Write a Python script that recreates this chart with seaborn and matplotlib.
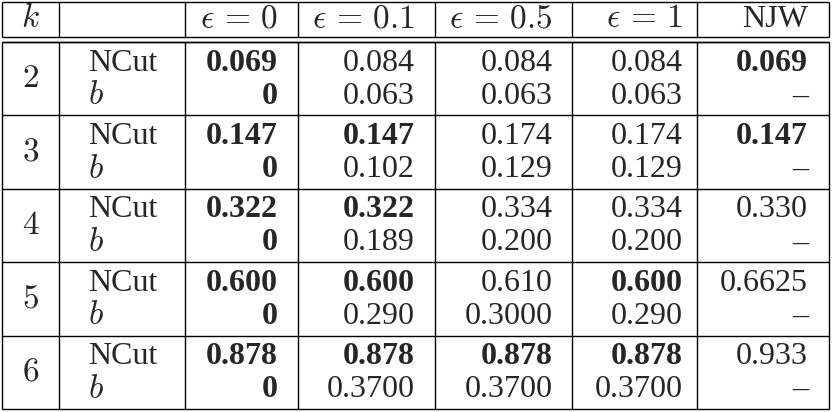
import matplotlib
matplotlib.use("Agg")
import matplotlib.pyplot as plt
import seaborn as sns

# ---- data ----
ks = [2, 3, 4, 5, 6]
headers = [r"$k$", "", r"$\epsilon\,=\,0$", r"$\epsilon\,=\,0.1$", r"$\epsilon\,=\,0.5$", r"$\epsilon\,=\,1$", "NJW"]
ncut_eps0 = ["0.069", "0.147", "0.322", "0.600", "0.878"]
ncut_eps01 = ["0.084", "0.147", "0.322", "0.600", "0.878"]
ncut_eps05 = ["0.084", "0.174", "0.334", "0.610", "0.878"]
ncut_eps1 = ["0.084", "0.174", "0.334", "0.600", "0.878"]
ncut_njw = ["0.069", "0.147", "0.330", "0.6625", "0.933"]
b_eps0 = ["0", "0", "0", "0", "0"]
b_eps01 = ["0.063", "0.102", "0.189", "0.290", "0.3700"]
b_eps05 = ["0.063", "0.129", "0.200", "0.3000", "0.3700"]
b_eps1 = ["0.063", "0.129", "0.200", "0.290", "0.3700"]
b_njw = ["–", "–", "–", "–", "–"]
row_labels = ["NCut", r"$b$"]

ncut_cols = [ncut_eps0, ncut_eps01, ncut_eps05, ncut_eps1, ncut_njw]
b_cols = [b_eps0, b_eps01, b_eps05, b_eps1, b_njw]

sns.set_theme(style="white")
plt.rcParams["font.family"] = ["Liberation Serif", "DejaVu Serif"]
plt.rcParams["mathtext.fontset"] = "cm"

W, H = 835, 412
fig = plt.figure(figsize=(W / 100, H / 100), dpi=100)
ax = fig.add_axes([0, 0, 1, 1])
ax.set_xlim(0, W)
ax.set_ylim(H, 0)
ax.axis("off")

# layout
xs = [2, 59, 185, 298, 435, 572, 697, 829]
y_top, y_h1, y_h2 = 1.5, 37, 42
row_h = (409 - y_h2) / len(ks)
lw = 1.0
fs = 23

# borders
for y in [y_top, y_h1, y_h2]:
    ax.plot([xs[0], xs[-1]], [y, y], color="black", lw=lw, solid_capstyle="butt")
for i in range(len(ks) + 1):
    y = y_h2 + i * row_h
    ax.plot([xs[0], xs[-1]], [y, y], color="black", lw=lw, solid_capstyle="butt")
for x in xs:
    ax.plot([x, x], [y_top, y_h1], color="black", lw=lw, solid_capstyle="butt")
    ax.plot([x, x], [y_h2, y_h2 + len(ks) * row_h], color="black", lw=lw, solid_capstyle="butt")

pads = [20, 20, 19, 14, 21]
right_edges = [xs[j + 3] - pads[j] for j in range(5)]

# header
ax.text((xs[0] + xs[1]) / 2, 19, headers[0], ha="center", va="center", fontsize=fs + 1)
for j in range(4):
    ax.text(right_edges[j], 19, headers[j + 2], ha="right", va="center", fontsize=fs + 1)
ax.text(right_edges[4], 19, headers[6], ha="right", va="center", fontsize=fs)

# body
for i, k in enumerate(ks):
    top = y_h2 + i * row_h
    yn = top + 21
    yb = top + 54
    ax.text((xs[0] + xs[1]) / 2, top + row_h / 2, f"${k}$", ha="center", va="center", fontsize=fs + 1)
    ax.text(88, yn, row_labels[0], ha="left", va="center", fontsize=fs)
    ax.text(88, yb, row_labels[1], ha="left", va="center", fontsize=fs + 1)
    vals = [float(c[i]) for c in ncut_cols]
    mn = min(vals)
    for j in range(5):
        v = ncut_cols[j][i]
        bold = abs(float(v) - mn) < 1e-9
        ax.text(right_edges[j], yn, v, ha="right", va="center", fontsize=fs,
                fontweight="bold" if bold else "normal")
        bv = b_cols[j][i]
        ax.text(right_edges[j], yb, bv, ha="right", va="center", fontsize=fs,
                fontweight="bold" if j == 0 else "normal")

fig.savefig("out.png", dpi=100, facecolor="white")
